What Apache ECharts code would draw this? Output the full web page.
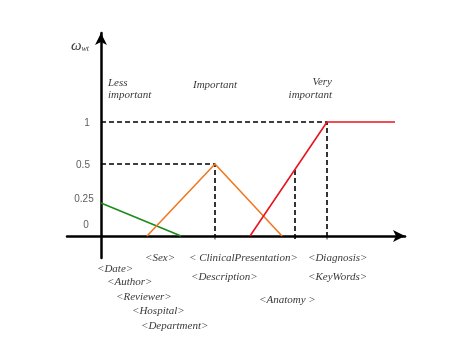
<!DOCTYPE html>
<html><head><meta charset="utf-8">
<script src="https://cdn.jsdelivr.net/npm/echarts@6/dist/echarts.min.js"></script>
<style>html,body{margin:0;padding:0;background:#fff}#c{width:474px;height:338px}</style>
</head><body><div id="c"></div>
<script>
// Membership functions (x: schematic position, y: weight as drawn)
var lessX = [0, 8.0];
var lessY = [0.29, 0];
var impX = [4.6, 11.4, 18.1];
var impY = [0, 0.632, 0];
var veryX = [14.9, 22.6, 29.4];
var veryY = [0, 1, 1];
// Reference (dashed) guides
var guideA = [[0, 1], [22.6, 1], [22.6, 0]];
var guideB = [[0, 0.632], [11.4, 0.632], [11.4, 0]];
var guideC = [[19.4, 0.579], [19.4, -0.03]];
var guideTicks = [[11.4, 0], [11.4, -0.03], [22.6, 0], [22.6, -0.03]];
// Tick labels on y axis
var yTickLabels = ['1', '0.5', '0.25', '0'];
var yTickPos = [[-1.4, 0.99], [-1.8, 0.625], [-1.7, 0.32], [-1.5, 0.095]];
// Region titles
var leftTitles = ['Less\nimportant', 'Important'];
var leftTitlePos = [[0.7, 1.29], [9.2, 1.32]];
var rightTitles = ['Very\nimportant'];
var rightTitlePos = [[23.1, 1.29]];
// Attribute labels
var attrLabels = ['<Sex>', '< ClinicalPresentation>', '<Diagnosis>', '<Date>', '<Author>', '<Reviewer>',
  '<Hospital>', '<Department>', '<Description>', '<KeyWords>', '<Anatomy >'];
var attrPos = [[4.4, -0.19], [8.8, -0.19], [20.7, -0.19], [-0.4, -0.29], [0.6, -0.405], [1.5, -0.535],
  [3.1, -0.66], [4.0, -0.79], [9.0, -0.36], [20.7, -0.36], [15.8, -0.56]];

var serif = 'Liberation Serif';
function pts(xs, ys) { return xs.map(function (x, i) { return [x, ys[i]]; }); }
function textSeries(texts, pos, opts) {
  return {
    type: 'scatter', symbolSize: 0, silent: true, z: 5, clip: false,
    data: pos.map(function (p, i) { return { value: p, name: texts[i] }; }),
    label: Object.assign({ show: true, position: 'inside', formatter: '{b}', color: '#000', fontFamily: serif }, opts)
  };
}
var dash = { color: '#000', width: 1.6, type: [5, 3] };
var chart = echarts.init(document.getElementById('c'));
chart.setOption({
  animation: false,
  backgroundColor: '#fff',
  grid: { left: 67, right: 69, top: 33, bottom: 80 },
  xAxis: {
    type: 'value', min: -3.4, max: 30.4,
    axisLine: { onZero: true, symbol: ['none', 'arrow'], symbolSize: [9, 12], lineStyle: { color: '#000', width: 2.5 } },
    axisTick: { show: false }, axisLabel: { show: false }, splitLine: { show: false }
  },
  yAxis: {
    type: 'value', min: -0.193, max: 1.781,
    axisLine: { onZero: true, symbol: ['none', 'arrow'], symbolSize: [9, 12], lineStyle: { color: '#000', width: 2.5 } },
    axisTick: { show: false }, axisLabel: { show: false }, splitLine: { show: false }
  },
  series: [
    { type: 'line', data: guideA, symbol: 'none', lineStyle: dash, z: 2 },
    { type: 'line', data: guideB, symbol: 'none', lineStyle: dash, z: 2 },
    { type: 'line', data: guideC, symbol: 'none', lineStyle: dash, z: 2 },
    { type: 'lines', coordinateSystem: 'cartesian2d', z: 2,
      data: [{ coords: guideTicks.slice(0, 2) }, { coords: guideTicks.slice(2, 4) }],
      lineStyle: { color: '#000', width: 1.6 } },
    { type: 'line', data: pts(lessX, lessY), symbol: 'none', lineStyle: { color: '#1a8c1a', width: 1.6 }, z: 3 },
    { type: 'line', data: pts(impX, impY), symbol: 'none', lineStyle: { color: '#f07820', width: 1.6 }, z: 3 },
    { type: 'line', data: pts(veryX, veryY), symbol: 'none', lineStyle: { color: '#e8141e', width: 1.6 }, z: 3 },
    textSeries(yTickLabels, yTickPos, { fontFamily: '"Liberation Sans Narrow", "Liberation Sans"', fontSize: 10, color: '#333' }),
    textSeries(leftTitles, leftTitlePos, { fontStyle: 'italic', fontSize: 11, align: 'left', lineHeight: 12 }),
    textSeries(rightTitles, rightTitlePos, { fontStyle: 'italic', fontSize: 11, align: 'right', lineHeight: 13 }),
    {
      type: 'scatter', symbolSize: 0, silent: true, z: 5, clip: false,
      data: [{ value: [-2.1, 1.67], name: 'w' }],
      label: { show: true, position: 'inside', formatter: '{a|ω}{b|wt}',
        rich: { a: { fontFamily: serif, fontStyle: 'italic', fontSize: 15, color: '#000' },
                b: { fontFamily: serif, fontStyle: 'italic', fontSize: 8, color: '#000', verticalAlign: 'bottom', padding: [6, 0, 0, 0] } } }
    },
    textSeries(attrLabels, attrPos, { fontStyle: 'italic', fontSize: 11, align: 'left' })
  ]
});
</script></body></html>
